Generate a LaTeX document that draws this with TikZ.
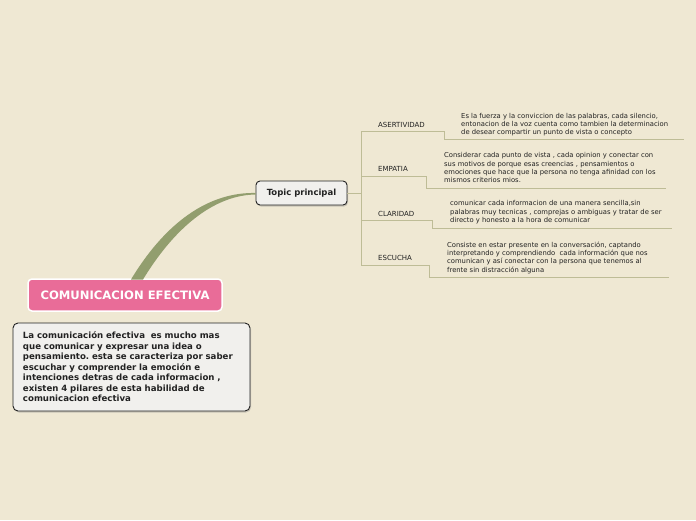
\documentclass[tikz,border=0pt]{standalone}
\usepackage{fontspec}
\setmainfont{DejaVu Sans}
\usetikzlibrary{shadows}
\frenchspacing

\definecolor{fondo}{RGB}{239,232,211}
\definecolor{rosa}{RGB}{233,108,152}
\definecolor{caja}{RGB}{241,240,237}
\definecolor{rama}{RGB}{146,158,110}
\definecolor{linea}{RGB}{190,188,150}
\definecolor{tinta}{RGB}{34,34,34}

\begin{document}
\begin{tikzpicture}[
    x=1pt, y=-1pt,
    central/.style={rectangle, rounded corners=4pt, fill=rosa, draw=white, line width=1.5pt, text=white, font=\fontsize{11.6}{13}\selectfont\bfseries, minimum width=194pt, minimum height=32pt},
    topic/.style={rectangle, rounded corners=4pt, fill=caja, draw=tinta, line width=0.9pt, drop shadow={shadow xshift=1pt, shadow yshift=-1.5pt, opacity=0.35}, font=\fontsize{8.5}{10}\selectfont\bfseries, text=tinta, minimum width=91pt, minimum height=24pt},
    nota/.style={rectangle, rounded corners=5pt, fill=caja, draw=tinta, line width=0.9pt, drop shadow={shadow xshift=1pt, shadow yshift=-1.5pt, opacity=0.35}, font=\fontsize{8.6}{10.5}\selectfont\bfseries, text=tinta, align=left, text width=217pt, inner xsep=10pt, minimum height=88pt},
    pilar/.style={anchor=west, inner sep=0pt, font=\fontsize{7}{8}\selectfont, text=tinta},
    detalle/.style={anchor=north west, inner sep=0pt, align=left, font=\fontsize{6.8}{8.3}\selectfont, text=tinta},
    union/.style={draw=linea, line width=0.9pt}
]
    \fill[fondo] (0,0) rectangle (696,520);
    \useasboundingbox (0,0) rectangle (696,520);

    % idea central
    \node[central] (centro) at (125,295) {COMUNICACION EFECTIVA};
    \node[nota] (resumen) at (131.5,367) {La comunicación efectiva\ \ es mucho mas\\que comunicar y expresar una idea o\\pensamiento. esta se caracteriza por saber\\escuchar y comprender la emoción e\\intenciones detras de cada informacion ,\\existen 4 pilares de esta habilidad de\\comunicacion efectiva};

    % Topic principal
    \node[topic] (topico) at (301.5,193) {Topic principal};
    \fill[rama] (131,279.5) .. controls (170,215) and (215,192) .. (topico.west) -- ++(0,1.5) .. controls (218,195) and (178,222) .. (143,279.5) -- cycle;

    \coordinate (hub) at (361,193);
    \draw[union] (topico.east) -- (hub);
    \draw[union] (361,131) -- (361,265);

    % ASERTIVIDAD
    \node[pilar] (asertividad) at (378,125) {ASERTIVIDAD};
    \draw[union] (361,131) -- (444,131) -- (444,139) -- (684,139);
    \node[detalle] (txtasert) at (461,113) {Es la fuerza y la conviccion de las palabras, cada silencio,\\entonacion de la voz cuenta como tambien la determinacion\\de desear compartir un punto de vista o concepto};

    % EMPATIA
    \node[pilar] (empatia) at (378,168.5) {EMPATIA};
    \draw[union] (361,176) -- (426,176) -- (426,188) -- (666,188);
    \node[detalle] (txtemp) at (444,152.5) {Considerar cada punto de vista , cada opinion y conectar con\\sus motivos de porque esas creencias , pensamientos o\\emociones que hace que la persona no tenga afinidad con los\\mismos criterios mios.};

    % CLARIDAD
    \node[pilar] (claridad) at (378,213.5) {CLARIDAD};
    \draw[union] (361,220.5) -- (432,220.5) -- (432,228) -- (672,228);
    \node[detalle] (txtclar) at (450,200.5) {comunicar cada informacion de una manera sencilla,sin\\palabras muy tecnicas , comprejas o ambiguas y tratar de ser\\directo y honesto a la hora de comunicar};

    % ESCUCHA
    \node[pilar] (escucha) at (378,257.5) {ESCUCHA};
    \draw[union] (361,265) -- (429,265) -- (429,277) -- (669,277);
    \node[detalle] (txtesc) at (447,241.5) {Consiste en estar presente en la conversación, captando\\interpretando y comprendiendo\ \ cada información que nos\\comunican y así conectar con la persona que tenemos al\\frente sin distracción alguna};
\end{tikzpicture}
\end{document}
